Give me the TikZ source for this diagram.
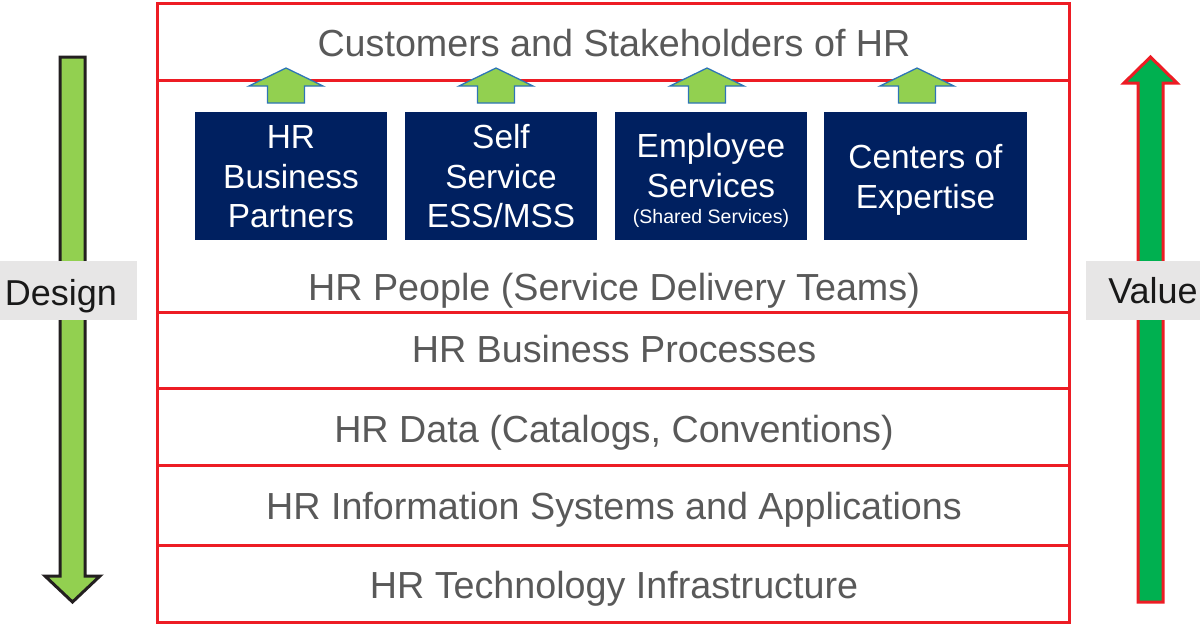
\documentclass[tikz,border=0pt]{standalone}
\usepackage{fontspec}
\setmainfont{Liberation Sans}
\definecolor{frame}{HTML}{ED1C24}
\definecolor{navy}{HTML}{002060}
\definecolor{lgreen}{HTML}{92D050}
\definecolor{dgreen}{HTML}{00B050}
\definecolor{txtgray}{HTML}{595959}
\definecolor{lblgray}{HTML}{E7E6E6}
\definecolor{arrblue}{HTML}{2E75B6}
\definecolor{darkline}{HTML}{231F20}
\begin{document}
\begin{tikzpicture}[x=1pt,y=-1pt,
  layerline/.style={draw=frame,line width=3pt},
  layertext/.style={anchor=base,text=txtgray,font=\fontsize{37.7}{44}\selectfont,inner sep=0pt},
  navybox/.style={fill=navy,draw=none},
  boxtext/.style={anchor=base,text=white,font=\fontsize{33.4}{40}\selectfont,inner sep=0pt},
  smalltext/.style={anchor=base,text=white,font=\fontsize{19.5}{23}\selectfont,inner sep=0pt},
  uparrow/.style={fill=lgreen,draw=arrblue,line width=1.3pt,line join=miter},
  lbl/.style={fill=lblgray,draw=none},
  lbltext/.style={anchor=base,text=black!90,font=\fontsize{36}{43}\selectfont,inner sep=0pt}
]
\useasboundingbox (0,0) rectangle (1200,630);

% left Design arrow
\draw[fill=lgreen,draw=darkline,line width=3pt,line join=miter]
  (60,57) -- (85,57) -- (85,576) -- (100,576) -- (72.5,602) -- (45,576) -- (60,576) -- cycle;
% right Value arrow
\draw[fill=dgreen,draw=frame,line width=3pt,line join=miter]
  (1138,602) -- (1163,602) -- (1163,83) -- (1177,83) -- (1150.5,57) -- (1124,83) -- (1138,83) -- cycle;

% labels on arrows
\fill[lbl] (0,261) rectangle (137,320);
\node[lbltext] (design) at (61,305) {Design};
\fill[lbl] (1086,261) rectangle (1200,320);
\node[lbltext] (value) at (1153,303) {Value};

% layer frame
\draw[layerline] (157.5,3) rectangle (1069.5,622);
\foreach \yy in {80,312.5,388,465.5,545}
  \draw[layerline] (157.5,\yy) -- (1069.5,\yy);

% layer texts
\node[layertext] (cust) at (614,56) {Customers and Stakeholders of HR};
\node[layertext] (people) at (614,300) {HR People (Service Delivery Teams)};
\node[layertext] (proc) at (614,362) {HR Business Processes};
\node[layertext] (data) at (614,442) {HR Data (Catalogs, Conventions)};
\node[layertext] (infosys) at (614,519) {HR Information Systems and Applications};
\node[layertext] (tech) at (614,598) {HR Technology Infrastructure};

% small up arrows
\foreach \cx in {286,496,707,917}
  \draw[uparrow] (\cx-18.5,103) -- (\cx+18.5,103) -- (\cx+18.5,86) -- (\cx+37,86)
    -- (\cx,68) -- (\cx-37,86) -- (\cx-18.5,86) -- cycle;

% navy boxes
\fill[navybox] (195,112) rectangle (387,240);
\fill[navybox] (405,112) rectangle (597,240);
\fill[navybox] (615,112) rectangle (807,240);
\fill[navybox] (824,112) rectangle (1027,240);

\node[boxtext] (b1a) at (291,148) {HR};
\node[boxtext] (b1b) at (291,188) {Business};
\node[boxtext] (b1c) at (291,227) {Partners};

\node[boxtext] (b2a) at (501,148) {Self};
\node[boxtext] (b2b) at (501,188) {Service};
\node[boxtext] (b2c) at (501,227) {ESS/MSS};

\node[boxtext] (b3a) at (711,157) {Employee};
\node[boxtext] (b3b) at (711,197) {Services};
\node[smalltext] (b3c) at (711,223) {(Shared Services)};

\node[boxtext] (b4a) at (925.5,168) {Centers of};
\node[boxtext] (b4b) at (925.5,208) {Expertise};
\end{tikzpicture}
\end{document}
